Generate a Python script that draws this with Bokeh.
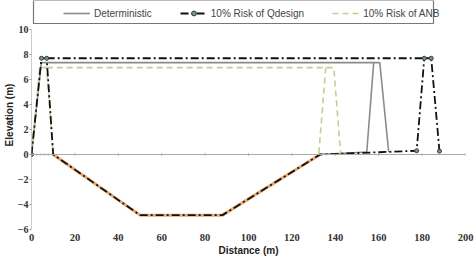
from bokeh.plotting import figure
from bokeh.models import Legend, LegendItem, Span, FixedTicker, BoxAnnotation
from bokeh.embed import file_html
from bokeh.resources import INLINE

# ---- data ----
ground_x = [10, 50, 88, 133]
ground_y = [0, -4.85, -4.85, 0]

det_x = [0, 4.5, 157.7, 160.5, 164.6]
det_y = [0, 7.35, 7.35, 7.35, 0.2]
det_dike_x = [133, 154.5, 157.7]
det_dike_y = [0, 0.2, 7.35]

qd_x = [0, 4.6, 7.0, 10, 50, 88, 133, 177.5, 181, 184.2, 188]
qd_y = [0, 7.7, 7.7, 0, -4.85, -4.85, 0, 0.3, 7.7, 7.7, 0.27]
qd_crest_x = [7.0, 181]
qd_crest_y = [7.7, 7.7]
qd_mark_x = [0, 4.6, 7.0, 177.5, 181, 184.2, 188]
qd_mark_y = [0, 7.7, 7.7, 0.3, 7.7, 7.7, 0.27]

anb_x = [0, 3.8, 7.0, 10]
anb_y = [0, 6.95, 6.95, 0]
anb_crest_x = [7.0, 135.6, 139.3, 142.5]
anb_crest_y = [6.95, 6.95, 6.95, 0]
anb_dike_x = [132.4, 135.6]
anb_dike_y = [0.1, 6.95]
anb_base_x = [0, 10]
anb_base_y = [0, 0]
anb_base2_x = [132.4, 142.5]
anb_base2_y = [0.05, 0.05]

x_ticks = [0, 20, 40, 60, 80, 100, 120, 140, 160, 180, 200]
y_ticks = [-6, -4, -2, 0, 2, 4, 6, 8, 10]

# frame extended upward so the legend box (above the value area) is not clipped
p = figure(width=474, height=258, output_backend="svg", toolbar_location=None,
           x_range=(0, 200), y_range=(-6, 12.32),
           min_border_left=0, min_border_right=9, min_border_top=0, min_border_bottom=0)
p.grid.visible = False
p.outline_line_color = None
p.background_fill_color = "white"
p.border_fill_color = "white"

# y axis
ya = p.yaxis[0]
ya.ticker = FixedTicker(ticks=y_ticks)
ya.minor_tick_line_color = None
ya.axis_line_color = None
ya.major_tick_line_color = "#999999"
ya.major_tick_out = 2
ya.major_tick_in = 0
ya.major_label_text_font = "Liberation Serif"
ya.major_label_text_font_style = "bold"
ya.major_label_text_font_size = "10px"
ya.major_label_text_color = "#333333"
ya.major_label_standoff = 1
ya.axis_label = "Elevation (m)"
ya.axis_label_text_font = "Liberation Sans"
ya.axis_label_text_font_style = "bold"
ya.axis_label_text_font_size = "10px"
ya.axis_label_text_color = "#222222"
ya.axis_label_standoff = 0
# y axis line only over the tick span
p.segment(x0=[0], y0=[min(y_ticks)], x1=[0], y1=[max(y_ticks)], line_color="#999999", line_width=1)

# x axis (labels at bottom, line drawn at y=0)
xa = p.xaxis[0]
xa.ticker = FixedTicker(ticks=x_ticks)
xa.minor_tick_line_color = None
xa.axis_line_color = None
xa.major_tick_line_color = None
xa.major_tick_out = 0
xa.major_tick_in = 0
xa.major_label_text_font = "Liberation Serif"
xa.major_label_text_font_style = "bold"
xa.major_label_text_font_size = "10.5px"
xa.major_label_text_color = "#333333"
xa.major_label_standoff = 4
xa.axis_label = "Distance (m)"
xa.axis_label_text_font = "Liberation Sans"
xa.axis_label_text_font_style = "bold"
xa.axis_label_text_font_size = "10px"
xa.axis_label_text_color = "#222222"
xa.axis_label_standoff = 1

p.add_layout(Span(location=0, dimension="width", line_color="#aaaaaa", line_width=1))
p.segment(x0=x_ticks, y0=[-0.1] * len(x_ticks), x1=x_ticks, y1=[0.1] * len(x_ticks),
          line_color="#aaaaaa", line_width=1)

# ground underlay
p.line(ground_x, ground_y, line_color="#E8A870", line_width=3)

# Deterministic
r_det = p.line(det_x, det_y, line_color="#8c8c8c", line_width=1.6)
p.line(det_dike_x, det_dike_y, line_color="#8c8c8c", line_width=1.6)

# ANB
anb_col = "#C2CF8E"
r_anb = p.line(anb_x, anb_y, line_color=anb_col, line_width=1.6, line_dash="6 4")
p.line(anb_crest_x, anb_crest_y, line_color=anb_col, line_width=1.6, line_dash="6 4")
p.line(anb_dike_x, anb_dike_y, line_color=anb_col, line_width=1.6, line_dash="6 4")
p.line(anb_base_x, anb_base_y, line_color="#6FA8A0", line_width=1.4, line_dash="2 2")
p.line(anb_base2_x, anb_base2_y, line_color="#6FA8A0", line_width=1.4, line_dash="2 2")

# Qdesign
r_qd = p.line(qd_x, qd_y, line_color="#111111", line_width=1.8, line_dash="8 3 2 3")
p.line(qd_crest_x, qd_crest_y, line_color="#111111", line_width=1.8, line_dash="8 3 2 3")
r_qdm = p.scatter(qd_mark_x, qd_mark_y, marker="circle", size=4,
                  fill_color="#7f9090", line_color="#2f3f3f", line_width=1)
r_anbm = p.scatter([], [], marker="x", size=5, line_color=anb_col, line_width=1.5)

# legend frame (wider than the item row, as in the reference)
box = BoxAnnotation(left=33, right=433, top=0, bottom=23,
                    left_units="canvas", right_units="canvas",
                    top_units="canvas", bottom_units="canvas",
                    fill_color="white", fill_alpha=1,
                    line_color="#777777", line_width=1.2, line_alpha=1)
p.add_layout(box)

legend = Legend(items=[
    LegendItem(label="Deterministic", renderers=[r_det]),
    LegendItem(label="10% Risk of Qdesign", renderers=[r_qd, r_qdm]),
    LegendItem(label="10% Risk of ANB", renderers=[r_anb, r_anbm]),
], orientation="horizontal", location=(32, 210))
legend.label_text_font = "Liberation Sans"
legend.label_text_font_size = "10px"
legend.label_text_color = "#444444"
legend.glyph_width = 27
legend.glyph_height = 12
legend.label_standoff = 4
legend.spacing = 28
legend.padding = 5
legend.margin = 0
legend.label_height = 12
legend.border_line_color = None
legend.background_fill_alpha = 0
p.add_layout(legend, "center")

open("out.html", "w").write(file_html(p, INLINE))
